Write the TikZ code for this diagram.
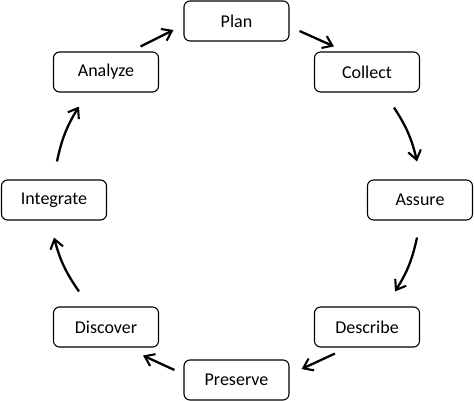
\documentclass[tikz,border=0pt]{standalone}
\usepackage{fontspec}
\setmainfont{Carlito}
\usetikzlibrary{arrows.meta}
\begin{document}
\begin{tikzpicture}[x=1pt,y=1pt,
	stage/.style={draw,line width=1.1pt,rounded corners=6pt,minimum width=105pt,minimum height=40pt,inner sep=0pt,font=\fontsize{18}{20}\selectfont},
	cyc/.style={line width=2.3pt,-{Straight Barb[length=9pt,width=13pt,line width=2.1pt]}}]
	\useasboundingbox (0,0) rectangle (474,-401);
	\node[stage] (plan) at (236.5,-21) {Plan};
	\node[stage] (collect) at (367,-72) {Collect};
	\node[stage] (assure) at (420,-200) {Assure};
	\node[stage] (describe) at (367,-327) {Describe};
	\node[stage] (preserve) at (236.5,-380) {Preserve};
	\node[stage] (discover) at (106,-327) {Discover};
	\node[stage] (integrate) at (54,-200) {Integrate};
	\node[stage] (analyze) at (106,-72) {Analyze};
	\draw[cyc]([shift={(-18.5,5)}]analyze.north east)--([shift={(-10,-9)}]plan.west);
	\draw[cyc]([shift={(10,-10)}]plan.east)--([shift={(20,5)}]collect.north west);
	\draw[cyc]([shift={(27,-15)}]collect.south) to[bend left=10] ([shift={(-3,18)}]assure.north);
	\draw[cyc]([shift={(-3,-17)}]assure.south) to[bend left=10] ([shift={(28,15)}]describe.north);
	\draw[cyc]([shift={(21,-6)}]describe.south west)--([shift={(12,11)}]preserve.east);
	\draw[cyc]([shift={(-9,10)}]preserve.west)--([shift={(-16,-8)}]discover.south east);
	\draw[cyc]([shift={(-27,15)}]discover.north) to[bend left=10] ([shift={(0,-17)}]integrate.south);
	\draw[cyc]([shift={(3,18)}]integrate.north) to[bend left=10] ([shift={(-27,-14)}]analyze.south);
\end{tikzpicture}
\end{document}
